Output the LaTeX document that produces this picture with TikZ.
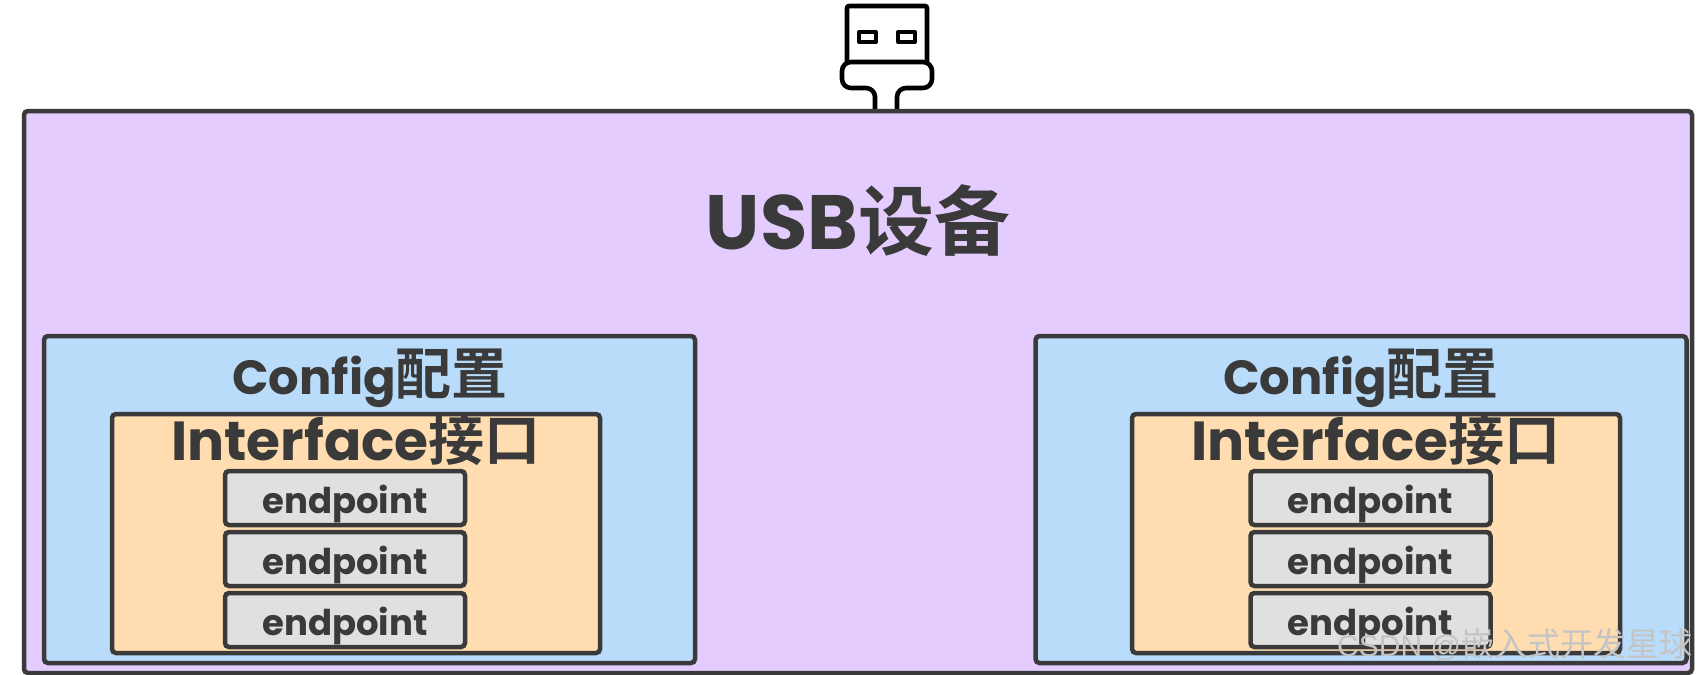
\documentclass[tikz,border=0pt]{standalone}
\usepackage{fontspec}
\setmainfont{Poppins}
\newfontfamily\cjk{Noto Sans CJK SC}[BoldFont={* Bold}]
\newfontfamily\wmfont{Liberation Sans}
\usetikzlibrary{calc}
\definecolor{ink}{HTML}{3A3A3A}
\definecolor{purplefill}{HTML}{E5CCFF}
\definecolor{bluefill}{HTML}{B9DCFA}
\definecolor{orangefill}{HTML}{FFDDB0}
\definecolor{greyfill}{HTML}{E0E0E0}
\definecolor{markgrey}{HTML}{C4C4C4}
\tikzset{
  x=1pt,y=-1pt,
  boxstyle/.style={draw=ink,line width=4.5pt,rounded corners=4pt},
  lab/.style={text=ink,font=\bfseries,inner sep=0pt,anchor=center},
  usbline/.style={draw=black,line width=4.6pt,line join=round},
  mark text/.style={text=markgrey,inner sep=0pt}
}
\newcommand{\zh}[2]{{\cjk\bfseries\fontsize{#1}{#1}\selectfont #2}}
\begin{document}
\begin{tikzpicture}
\useasboundingbox (0,0) rectangle (1701,675);
\fill[white] (0,0) rectangle (1701,675);
% USB plug
\draw[usbline,rounded corners=2pt] (847,62) -- (847,6) -- (927,6) -- (927,62);
\draw[usbline,rounded corners=9pt] (875,110) -- (875,88) -- (842,88) -- (842,62) -- (932,62) -- (932,88) -- (897,88) -- (897,110);
\draw[usbline,line width=4pt] (859,32) rectangle (876,42);
\draw[usbline,line width=4pt] (898,32) rectangle (915,42);
% Device
\node[boxstyle,fill=purplefill,minimum width=1668pt,minimum height=562pt,inner sep=0pt] (device) at (858,392) {};
\node[lab,font=\bfseries\fontsize{77}{77}\selectfont] (devlabel) at (858,221) {USB\zh{76}{设备}};
\foreach \n/\cx/\ix/\ex/\lx in {a/369.5/356/345/370, b/1361/1376/1370.5/1361}{
  \node[boxstyle,fill=bluefill,minimum width=651pt,minimum height=327pt,inner sep=0pt] (cfg\n) at (\cx,499.5) {};
  \node[lab,font=\bfseries\fontsize{48}{48}\selectfont] (cfglab\n) at (\lx,378) {Config\zh{56}{配置}};
  \node[boxstyle,fill=orangefill,minimum width=488pt,minimum height=239pt,inner sep=0pt] (int\n) at (\ix,533.5) {};
  \node[lab,font=\bfseries\fontsize{55}{55}\selectfont] (intlab\n) at (\ix,439) {Interface\zh{56}{接口}};
  \node[boxstyle,fill=greyfill,minimum width=240pt,minimum height=54pt,inner sep=0pt] (ep1\n) at (\ex,498) {};
  \node[boxstyle,fill=greyfill,minimum width=240pt,minimum height=54pt,inner sep=0pt] (ep2\n) at (\ex,559) {};
  \node[boxstyle,fill=greyfill,minimum width=240pt,minimum height=54pt,inner sep=0pt] (ep3\n) at (\ex,620) {};
  \foreach \k in {1,2,3}{
    \node[lab,font=\bfseries\fontsize{35.5}{35.5}\selectfont] at ([yshift=-5.5pt]ep\k\n.center) {endpoint};
  }
}
% watermark
\node[mark text,anchor=west,font=\wmfont\fontsize{30}{30}\selectfont] (wm) at (1337,645) {CSDN @{\cjk\fontsize{33}{33}\selectfont 嵌入式开发星球}};
\end{tikzpicture}
\end{document}
